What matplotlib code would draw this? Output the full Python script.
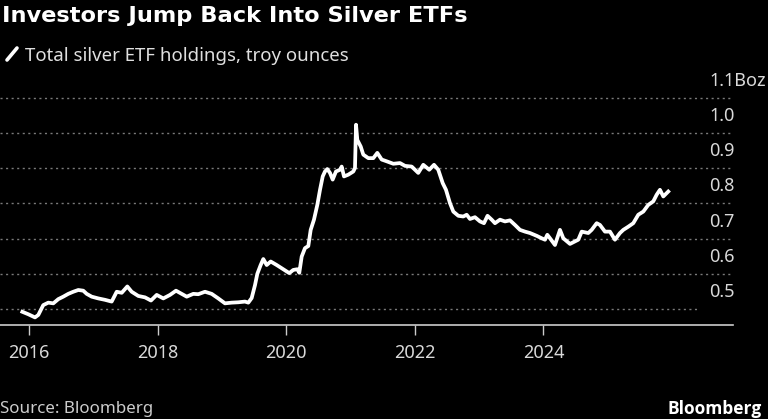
import matplotlib.pyplot as plt
from matplotlib.lines import Line2D
from matplotlib import transforms

# total silver ETF holdings (billion troy ounces)
years = [2015.896, 2015.989, 2016.093, 2016.145, 2016.222, 2016.300, 2016.378, 2016.456,
         2016.533, 2016.611, 2016.689, 2016.767, 2016.844, 2016.897, 2016.975, 2017.078,
         2017.182, 2017.286, 2017.364, 2017.442, 2017.529, 2017.597, 2017.700, 2017.804,
         2017.897, 2017.986, 2018.089, 2018.193, 2018.286, 2018.375, 2018.453, 2018.555,
         2018.633, 2018.737, 2018.841, 2018.944, 2019.048, 2019.152, 2019.255, 2019.359,
         2019.411, 2019.463, 2019.515, 2019.551, 2019.603, 2019.644, 2019.697, 2019.759,
         2019.852, 2019.955, 2020.048, 2020.110, 2020.173, 2020.204, 2020.241, 2020.292,
         2020.344, 2020.381, 2020.432, 2020.484, 2020.526, 2020.568, 2020.603, 2020.639,
         2020.681, 2020.723, 2020.774, 2020.837, 2020.863, 2020.899, 2020.966, 2021.044,
         2021.070, 2021.086, 2021.106, 2021.159, 2021.199, 2021.277, 2021.355, 2021.417,
         2021.485, 2021.563, 2021.666, 2021.770, 2021.848, 2021.952, 2022.054, 2022.132,
         2022.225, 2022.299, 2022.365, 2022.434, 2022.485, 2022.547, 2022.599, 2022.677,
         2022.754, 2022.807, 2022.858, 2022.936, 2023.014, 2023.076, 2023.131, 2023.196,
         2023.247, 2023.325, 2023.403, 2023.481, 2023.558, 2023.636, 2023.714, 2023.792,
         2023.896, 2023.974, 2024.025, 2024.061, 2024.103, 2024.180, 2024.258, 2024.310,
         2024.414, 2024.491, 2024.543, 2024.596, 2024.698, 2024.751, 2024.829, 2024.880,
         2024.958, 2025.036, 2025.113, 2025.191, 2025.243, 2025.320, 2025.398, 2025.476,
         2025.554, 2025.631, 2025.709, 2025.762, 2025.813, 2025.865, 2025.942]
holdings = [0.492, 0.485, 0.476, 0.483, 0.511, 0.518, 0.516, 0.528,
            0.535, 0.543, 0.549, 0.554, 0.552, 0.543, 0.535, 0.530,
            0.526, 0.521, 0.549, 0.546, 0.564, 0.549, 0.537, 0.533,
            0.524, 0.540, 0.530, 0.540, 0.552, 0.543, 0.535, 0.543,
            0.542, 0.549, 0.543, 0.530, 0.516, 0.518, 0.519, 0.521,
            0.518, 0.531, 0.568, 0.600, 0.625, 0.642, 0.625, 0.635,
            0.625, 0.613, 0.602, 0.611, 0.613, 0.603, 0.649, 0.673,
            0.679, 0.725, 0.754, 0.796, 0.839, 0.877, 0.891, 0.898,
            0.887, 0.868, 0.891, 0.896, 0.905, 0.877, 0.882, 0.891,
            0.901, 1.024, 0.981, 0.962, 0.939, 0.929, 0.929, 0.944,
            0.925, 0.920, 0.913, 0.915, 0.907, 0.905, 0.887, 0.910,
            0.896, 0.910, 0.896, 0.858, 0.839, 0.801, 0.777, 0.765,
            0.763, 0.768, 0.756, 0.761, 0.749, 0.744, 0.765, 0.754,
            0.744, 0.754, 0.749, 0.752, 0.739, 0.725, 0.720, 0.716,
            0.708, 0.701, 0.697, 0.711, 0.701, 0.682, 0.725, 0.701,
            0.685, 0.692, 0.697, 0.720, 0.716, 0.725, 0.744, 0.739,
            0.720, 0.720, 0.697, 0.716, 0.725, 0.734, 0.744, 0.768,
            0.777, 0.796, 0.806, 0.825, 0.839, 0.820, 0.834]

x_ticks = [2016, 2018, 2020, 2022, 2024]
y_ticks = [0.5, 0.6, 0.7, 0.8, 0.9, 1.0, 1.1]
y_labels = ['0.5', '0.6', '0.7', '0.8', '0.9', '1.0', '1.1Boz']

plt.rcParams['font.family'] = ['Noto Sans', 'DejaVu Sans']
W, H = 768, 419
fig = plt.figure(figsize=(W / 100, H / 100), dpi=100, facecolor='black')
ax = fig.add_axes([0, 1 - 325 / H, 733 / W, (325 - 90) / H], facecolor='black')

ax.plot(years, holdings, color='white', lw=2.7, solid_joinstyle='round', zorder=3)

ax.set_xlim(2015.549, 2026.949)
ax.set_ylim(0.4544, 1.1228)

# dotted gridlines, the bottom one a bit shorter
for v in y_ticks:
    ax.axhline(v, xmin=0, xmax=0.955 if v == 0.5 else 1.0, color='#7a7a7a',
               lw=1, ls=(0, (1.5, 2.5)), zorder=1)

# y labels sit above their gridlines on the right
trans = transforms.blended_transform_factory(ax.transAxes, ax.transData)
off = transforms.ScaledTranslation(0, 0.17, fig.dpi_scale_trans)
for v, lab in zip(y_ticks, y_labels):
    ax.text(709 / 733, v, lab, transform=trans + off, ha='left', va='center',
            color='#d9d9d9', fontsize=13, clip_on=False)

ax.set_yticks([])
ax.set_xticks(x_ticks)
ax.set_xticklabels([str(t) for t in x_ticks])
ax.tick_params(axis='x', colors='#cccccc', direction='out', length=7, width=1,
               pad=7, labelsize=13, labelcolor='#d9d9d9')
for s in ['top', 'right', 'left']:
    ax.spines[s].set_visible(False)
ax.spines['bottom'].set_color('#cccccc')
ax.spines['bottom'].set_linewidth(1.2)

fig.text(2 / W, 1 - 22 / H, 'Investors Jump Back Into Silver ETFs', color='white',
         fontsize=16.2, fontweight='bold', family=['DejaVu Sans'],
         ha='left', va='baseline')
fig.add_artist(Line2D([7 / W, 17 / W], [1 - 60 / H, 1 - 48 / H], color='white',
                      lw=2.6, solid_capstyle='round'))
fig.text(25 / W, 1 - 61 / H, 'Total silver ETF holdings, troy ounces', color='#e0e0e0',
         fontsize=13.4, ha='left', va='baseline')
fig.text(0, 1 - 409 / H, 'Source: Bloomberg', color='#cccccc', fontsize=12.2,
         ha='left', va='center')
fig.text(762 / W, 1 - 409 / H, 'Bloomberg', color='white', fontsize=12.5,
         fontweight='bold', family=['Open Sans', 'DejaVu Sans'],
         ha='right', va='center')

fig.savefig('out.png', dpi=100, facecolor='black')
